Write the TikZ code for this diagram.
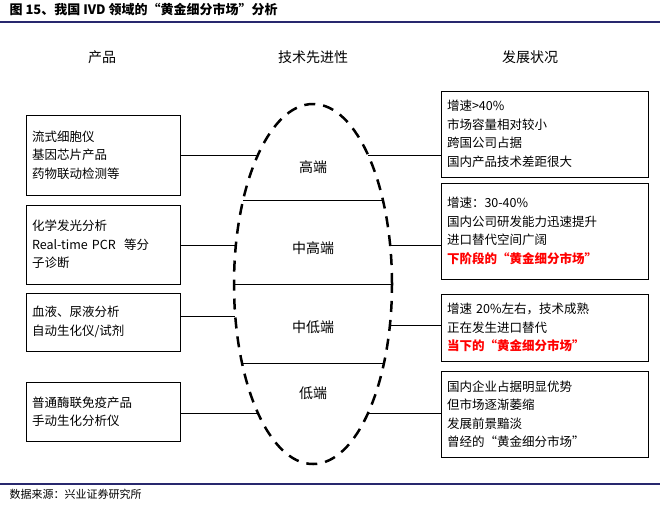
\documentclass[tikz,border=0pt]{standalone}
\usepackage{fontspec}
\setmainfont{Noto Sans CJK SC}
\usetikzlibrary{shapes.geometric}
\begin{document}
\begin{tikzpicture}[x=1pt,y=-1pt,
  box/.style={draw,line width=0.8pt,inner sep=5pt,align=left,font=\fontsize{12.5}{18.5}\selectfont,anchor=center},
  ln/.style={line width=0.8pt},
  lbl/.style={font=\fontsize{14}{16}\selectfont}]
\useasboundingbox (0,0) rectangle (660,504);
\node[anchor=west,font=\bfseries\fontsize{13}{15}\selectfont] (title) at (6,10) {图 15、我国 IVD 领域的“黄金细分市场”分析};
\draw[line width=1.5pt,color={rgb,255:red,40;green,40;blue,110}] (0,22) -- (660,22);
\node[lbl] (h1) at (102,57) {产品};
\node[lbl] (h2) at (313,57) {技术先进性};
\node[lbl] (h3) at (530,57) {发展状况};
\node[draw,ellipse,dash pattern=on 11pt off 8pt,line width=2.5pt,minimum width=158pt,minimum height=360pt,inner sep=0] (E) at (313,284) {};
\coordinate (a1) at (243,200); \coordinate (b1) at (383,200);
\coordinate (a2) at (234,284); \coordinate (b2) at (392,284);
\coordinate (a3) at (242,363); \coordinate (b3) at (384,363);
\draw[ln] (a1) -- (b1); \draw[ln] (a2) -- (b2); \draw[ln] (a3) -- (b3);
\node[lbl] (t1) at (313,167) {高端};
\node[lbl] (t2) at (313,248) {中高端};
\node[lbl] (t3) at (313,327) {中低端};
\node[lbl] (t4) at (313,393) {低端};
\node[box,minimum width=154pt,minimum height=80pt,text width=142pt] (L1) at (103,155) {流式细胞仪\\基因芯片产品\\药物联动检测等};
\node[box,minimum width=154pt,minimum height=79pt,text width=142pt] (L2) at (103,244.5) {化学发光分析\\Real-time PCR\ \ 等分\\子诊断};
\node[box,minimum width=154pt,minimum height=58pt,text width=142pt] (L3) at (103,322) {血液、尿液分析\\自动生化仪/试剂};
\node[box,minimum width=154pt,minimum height=59pt,text width=142pt] (L4) at (103,411.5) {普通酶联免疫产品\\手动生化分析仪};
\node[box,minimum width=207pt,minimum height=86pt,text width=195pt] (R1) at (544.5,134) {增速>40\%\\市场容量相对较小\\跨国公司占据\\国内产品技术差距很大};
\node[box,minimum width=207pt,minimum height=96pt,text width=195pt] (R2) at (544.5,231) {增速：30-40\%\\国内公司研发能力迅速提升\\进口替代空间广阔\\{\color{red}\bfseries 下阶段的“黄金细分市场”}};
\node[box,minimum width=207pt,minimum height=67pt,text width=195pt] (R3) at (544.5,327.5) {增速 20\%左右，技术成熟\\正在发生进口替代\\{\color{red}\bfseries 当下的“黄金细分市场”}};
\node[box,minimum width=207pt,minimum height=86pt,text width=195pt] (R4) at (544.5,414) {国内企业占据明显优势\\但市场逐渐萎缩\\发展前景黯淡\\曾经的“黄金细分市场”};
\coordinate (l1) at (258,155); \coordinate (l2) at (236,245); \coordinate (l3) at (235,316); \coordinate (l4) at (258,413);
\coordinate (r1) at (368,155); \coordinate (r2) at (390,245); \coordinate (r3) at (390,325); \coordinate (r4) at (368,413);
\draw[ln] (L1.east) -- (l1); \draw[ln] (L2.east |- l2) -- (l2);
\draw[ln] (L3.east |- l3) -- (l3); \draw[ln] (L4.east |- l4) -- (l4);
\draw[ln] (R1.west |- r1) -- (r1); \draw[ln] (R2.west |- r2) -- (r2);
\draw[ln] (R3.west |- r3) -- (r3); \draw[ln] (R4.west |- r4) -- (r4);
\draw[line width=1.5pt,color={rgb,255:red,40;green,40;blue,110}] (0,484) -- (660,484);
\node[anchor=west,font=\fontsize{11}{12}\selectfont] (src) at (6,494) {数据来源：兴业证券研究所};
\end{tikzpicture}
\end{document}
